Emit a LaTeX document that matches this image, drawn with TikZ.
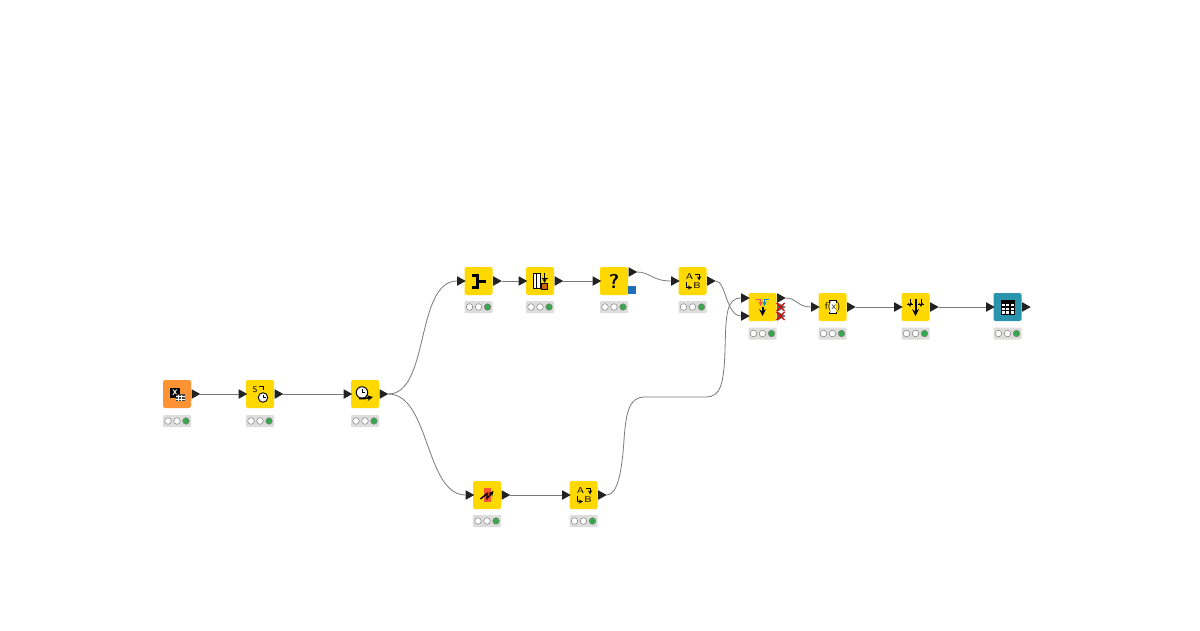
\documentclass[tikz,border=0pt]{standalone}
\usepackage{amsmath}
\usetikzlibrary{shapes.geometric}
\definecolor{readercol}{HTML}{FF9233}
\definecolor{manipcol}{HTML}{FFD800}
\definecolor{viewcol}{HTML}{2A94AC}
\definecolor{statuscol}{HTML}{DDDEDC}
\definecolor{lampcol}{HTML}{35A84C}
\definecolor{wirecol}{HTML}{7A7A7A}
\definecolor{portcol}{HTML}{222222}
\definecolor{flowcol}{HTML}{1F6DB4}
\tikzset{
	body/.style={rectangle, rounded corners=2, minimum size=28, inner sep=0, outer sep=0, fill=#1},
	port/.style={isosceles triangle, isosceles triangle stretches, shape border rotate=0, inner sep=0, outer sep=0, minimum width=9.5, minimum height=8.5, fill=portcol},
	wire/.style={draw=wirecol, line width=0.8},
	statusbar/.style={rectangle, rounded corners=1, minimum width=28, minimum height=12, inner sep=0, fill=statuscol},
	lamp/.style={circle, minimum size=6.6, inner sep=0, draw=black!50, line width=0.5, fill=#1},
	ink/.style={line width=1.1, draw=black},
	icontext/.style={inner sep=0, font=\sffamily\fontsize{8.5}{8.5}\selectfont},
}
\newcommand{\lights}[3]{
	\node[statusbar] (#1status) at (#2,#3) {};
	\node[lamp=white] (#1lampa) at (#2-9,#3) {};
	\node[lamp=white] (#1lampb) at (#2,#3) {};
	\node[lamp=lampcol] (#1lampc) at (#2+9,#3) {};
}
\newcommand{\renameicon}[3]{
	\node[icontext, xscale=1.25] (#1a) at (#2-3,#3-4) {A};
	\node[icontext, xscale=1.25] (#1b) at (#2+4.5,#3+5) {B};
	\draw[ink, line width=0.9, ->, >=stealth] (#2+2,#3-6.5) -- (#2+6.5,#3-6.5) -- (#2+6.5,#3-0.5);
	\draw[ink, line width=0.9, ->, >=stealth] (#2-6.5,#3+0.5) -- (#2-6.5,#3+6.5) -- (#2-0.5,#3+6.5);
}
\begin{document}
\begin{tikzpicture}[x=1pt, y=-1pt]
	\useasboundingbox (0,0) rectangle (1200,630);

	% bodies
	\node[body=readercol] (reader) at (177,394) {};
	\node[body=manipcol] (strtime) at (260,394) {};
	\node[body=manipcol] (timeshift) at (365,394) {};
	\node[body=manipcol] (colfilter) at (478.5,281) {};
	\node[body=manipcol] (coltoggle) at (540,281) {};
	\node[body=manipcol] (missing) at (614,281) {};
	\node[body=manipcol] (renameup) at (692.5,281) {};
	\node[body=manipcol] (joiner) at (762.5,307) {};
	\node[body=manipcol] (mathf) at (832.5,307) {};
	\node[body=manipcol] (sorter) at (915.5,307) {};
	\node[body=viewcol] (viewer) at (1007.5,307) {};
	\node[body=manipcol] (rowfilter) at (487,495) {};
	\node[body=manipcol] (renamedn) at (583.5,495) {};

	% status
	\lights{reader}{177}{421}
	\lights{strtime}{260}{421}
	\lights{timeshift}{365}{421}
	\lights{colfilter}{478.5}{307}
	\lights{coltoggle}{540}{307}
	\lights{missing}{614}{307}
	\lights{renameup}{692.5}{307}
	\lights{joiner}{762.5}{333.5}
	\lights{mathf}{832.5}{333.5}
	\lights{sorter}{915.5}{333.5}
	\lights{viewer}{1007.5}{333.5}
	\lights{rowfilter}{487}{521}
	\lights{renamedn}{583.5}{521}

	% ports
	\node[port] (readerout) at (194.5,394) {};
	\node[port] (strtimein) at (241.5,394) {};
	\node[port] (strtimeout) at (277.5,394) {};
	\node[port] (timeshiftin) at (346.5,394) {};
	\node[port] (timeshiftout) at (382.5,394) {};
	\node[port] (colfilterin) at (460,281) {};
	\node[port] (colfilterout) at (496,281) {};
	\node[port] (coltogglein) at (521.5,281) {};
	\node[port] (coltoggleout) at (557.5,281) {};
	\node[port] (missingin) at (595.5,281) {};
	\node[port] (missingout) at (631.5,272) {};
	\node[rectangle, minimum size=8, inner sep=0, fill=flowcol] (missingflow) at (632,290) {};
	\node[port] (renameupin) at (674,281) {};
	\node[port] (renameupout) at (710,281) {};
	\node[port] (joinerina) at (744,298) {};
	\node[port] (joinerinb) at (744,316) {};
	\node[port] (joinerouta) at (780,298) {};
	\node[port, fill=black!60] (joineroutb) at (780,307) {};
	\node[port, fill=black!60] (joineroutc) at (780,316) {};
	\node[port] (mathfin) at (814,307) {};
	\node[port] (mathfout) at (850,307) {};
	\node[port] (sorterin) at (897,307) {};
	\node[port] (sorterout) at (933,307) {};
	\node[port] (viewerin) at (989,307) {};
	\node[port] (viewerout) at (1025,307) {};
	\node[port] (rowfilterin) at (468.5,495) {};
	\node[port] (rowfilterout) at (504.5,495) {};
	\node[port] (renamednin) at (565,495) {};
	\node[port] (renamednout) at (601,495) {};

	% inactive ports
	\draw[red!90!black, line width=1.2] (776.5,303) -- (784.5,311) (784.5,303) -- (776.5,311);
	\draw[red!90!black, line width=1.2] (776.5,312) -- (784.5,320) (784.5,312) -- (776.5,320);

	% wires
	\draw[wire] (readerout.east) -- (strtimein.west);
	\draw[wire] (strtimeout.east) -- (timeshiftin.west);
	\draw[wire] (timeshiftout.east) .. controls (430,394) and (415,281) .. (colfilterin.west);
	\draw[wire] (timeshiftout.east) .. controls (430,394) and (425,495) .. (rowfilterin.west);
	\draw[wire] (colfilterout.east) -- (coltogglein.west);
	\draw[wire] (coltoggleout.east) -- (missingin.west);
	\draw[wire] (missingout.east) .. controls (650,272) and (652,281) .. (renameupin.west);
	\draw[wire] (renameupout.east) .. controls (726,281) and (726,316) .. (joinerinb.west);
	\draw[wire] (rowfilterout.east) -- (renamednin.west);
	\coordinate (benda) at (624,440);
	\coordinate (bendb) at (645,397);
	\coordinate (bendc) at (706,397);
	\coordinate (bendd) at (725,350);
	\draw[wire] (renamednout.east) .. controls (618,495) and (622,470) .. (benda) .. controls (626,410) and (630,397) .. (bendb) -- (bendc) .. controls (720,397) and (724,385) .. (bendd) .. controls (726,315) and (726,298) .. (joinerina.west);
	\draw[wire] (joinerouta.east) .. controls (797,298) and (797,307) .. (mathfin.west);
	\draw[wire] (mathfout.east) -- (sorterin.west);
	\draw[wire] (sorterout.east) -- (viewerin.west);

	% icons
	\fill[black] (170,388) rectangle (180,397.5);
	\node[icontext, text=white, font=\sffamily\bfseries\fontsize{8}{8}\selectfont] (readerx) at (175,392.7) {X};
	\fill[black!75] (175.5,394) rectangle (184.5,401);
	\draw[white, line width=0.5] (178.5,394.5) -- (178.5,401) (181.5,394.5) -- (181.5,401) (175.5,396.5) -- (184.5,396.5) (175.5,398.8) -- (184.5,398.8);

	\node[icontext] (strtimes) at (255,390) {S};
	\draw[ink, line width=0.9] (258.5,386.8) -- (263,386.8) -- (263,389.5);
	\node[circle, draw=black, fill=white, line width=0.9, minimum size=9.5, inner sep=0] (strtimeclock) at (263,397.5) {};
	\draw[black, line width=0.7] (263,394.5) -- (263,397.5) -- (265.5,397.5);

	\node[circle, draw=black, fill=white, line width=1, minimum size=11.5, inner sep=0] (shiftclock) at (362,392.5) {};
	\draw[black, line width=0.7] (362,389) -- (362,392.5) -- (365,392.5);
	\draw[black, line width=1.6, ->, >=stealth] (359,398.5) -- (365,398.5) -- (373,397);

	\draw[black, line width=3] (471.5,275.5) -- (477,275.5) -- (477,287) -- (471.5,287) (477,281) -- (486,281);

	\draw[black, fill=white, line width=0.8] (533,273) rectangle (536.5,288);
	\draw[black, fill=white, line width=0.8] (536.5,273) rectangle (540,288);
	\draw[black, line width=1, ->, >=stealth] (544.5,272.5) -- (544.5,283);
	\draw[black, line width=0.8] (541.5,278) -- (547.5,278);
	\draw[black, fill=orange!80!black, line width=0.6] (541.5,283.5) rectangle (547,289);

	\node[inner sep=0, font=\sffamily\bfseries\fontsize{20}{20}\selectfont] (missingq) at (614,281) {?};

	\renameicon{renameup}{692.5}{281}
	\renameicon{renamedn}{583.5}{495}

	\draw[red!70, line width=1, ->, >=stealth] (756,299) -- (760.5,299) -- (760.5,306);
	\draw[cyan!70!blue, line width=1, ->, >=stealth] (769,299) -- (764.5,299) -- (764.5,306);
	\draw[black, line width=2, ->, >=stealth] (762.5,306.5) -- (762.5,316);

	\fill[white] (829,300.5) rectangle (836,313.5);
	\draw[black, line width=0.8] (829,302.5) -- (829,300.5) -- (836,300.5) -- (836,302.5) (829,311.5) -- (829,313.5) -- (836,313.5) -- (836,311.5);
	\node[icontext, font=\sffamily\fontsize{10}{10}\selectfont] (mathftext) at (832.5,307) {f(x)};

	\draw[black, line width=2, ->, >=stealth] (915.5,299) -- (915.5,316);
	\draw[black, line width=0.9, ->, >=stealth] (910,299) -- (910,307);
	\draw[black, line width=0.9, ->, >=stealth] (921,299) -- (921,307);
	\draw[black, line width=0.8] (907,304) -- (913,304) (918,304) -- (924,304);

	\fill[black] (1000.5,300) rectangle (1014.5,314.5);
	\foreach \cx in {1001.5,1006,1010.5}
		\foreach \cy in {303.5,307.5,311}
			\fill[white] (\cx,\cy) rectangle ++(3.2,2.7);

	\fill[red!70!orange!80] (483.5,488) rectangle (490.5,502);
	\draw[black, line width=1.4, ->, >=stealth] (480.5,499) -- (487,493.5) -- (487,498.5) -- (493.5,491);
\end{tikzpicture}
\end{document}
